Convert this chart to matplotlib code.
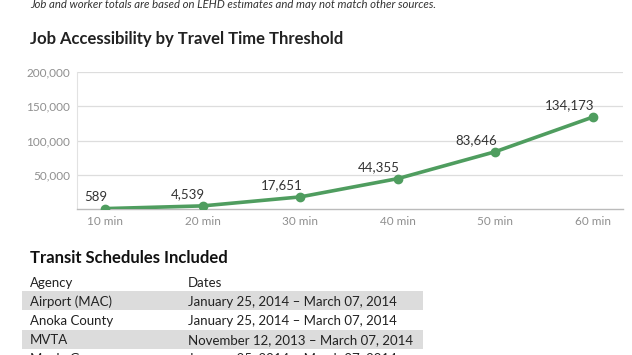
import matplotlib.pyplot as plt
from matplotlib.patches import Rectangle
from matplotlib.ticker import FuncFormatter

thresholds = ["10 min", "20 min", "30 min", "40 min", "50 min", "60 min"]
jobs = [589, 4539, 17651, 44355, 83646, 134173]

agencies = ["Airport (MAC)", "Anoka County", "MVTA", "Maple Grove"]
dates = ["January 25, 2014 \u2013 March 07, 2014",
         "January 25, 2014 \u2013 March 07, 2014",
         "November 12, 2013 \u2013 March 07, 2014",
         "January 25, 2014 \u2013 March 07, 2014"]

plt.rcParams['font.family'] = ['Lato', 'DejaVu Sans']

W, H = 632, 355
fig = plt.figure(figsize=(W / 100, H / 100), dpi=100)

def fx(px):
	return px / W

def fy(py):
	return 1 - py / H

green = "#4f9d5f"

ax = fig.add_axes([fx(77), fy(209), fx(623) - fx(77), fy(72) - fy(209)])
x = list(range(len(thresholds)))
ax.plot(x, jobs, color=green, lw=2.6, marker="o", ms=6, solid_capstyle="round", zorder=3)
for i, v in enumerate(jobs):
	ax.annotate(f"{v:,}", (i, v), xytext=(1.5, 4), textcoords="offset points",
		ha="right", va="bottom", fontsize=9.5, color="#333333")

ax.set_xlim(-0.29, 5.31)
ax.set_ylim(0, 200000)
ax.set_xticks(x)
ax.set_xticklabels(thresholds)
ax.set_yticks([50000, 100000, 150000, 200000])
ax.yaxis.set_major_formatter(FuncFormatter(lambda v, p: f"{int(v):,}"))
ax.tick_params(length=0, labelsize=8.5, labelcolor="#8f8f8f")
ax.tick_params(axis="x", pad=5)
ax.tick_params(axis="y", pad=5)
ax.grid(axis="y", color="#dddddd", lw=0.9)
ax.set_axisbelow(True)
for s in ["top", "right"]:
	ax.spines[s].set_visible(False)
ax.spines["left"].set_color("#e2e2e2")
ax.spines["bottom"].set_color("#bbbbbb")
ax.spines["bottom"].set_linewidth(1.0)

fig.text(fx(30), fy(8), "Job and worker totals are based on LEHD estimates and may not match other sources.",
	fontsize=8.2, style="italic", color="#333333", va="baseline")
fig.text(fx(30), fy(44), "Job Accessibility by Travel Time Threshold",
	fontsize=12, fontweight="bold", color="#222222", va="baseline")
fig.text(fx(30), fy(263), "Transit Schedules Included",
	fontsize=12, fontweight="bold", color="#111111", va="baseline")

fig.text(fx(30), fy(287), "Agency", fontsize=9.5, color="#222222", va="baseline")
fig.text(fx(188), fy(287), "Dates", fontsize=9.5, color="#222222", va="baseline")

row_top = 291
row_h = 19.3
for i, (a, d) in enumerate(zip(agencies, dates)):
	top = row_top + i * row_h
	if i % 2 == 0:
		fig.patches.append(Rectangle((fx(22), fy(top + row_h)), fx(423) - fx(22), row_h / H,
			transform=fig.transFigure, facecolor="#dcdcdc", edgecolor="none", zorder=0))
	base = top + 14.5
	fig.text(fx(30), fy(base), a, fontsize=9.5, color="#222222", va="baseline")
	fig.text(fx(188), fy(base), d, fontsize=9.5, color="#222222", va="baseline")

fig.savefig("out.png", dpi=100)
